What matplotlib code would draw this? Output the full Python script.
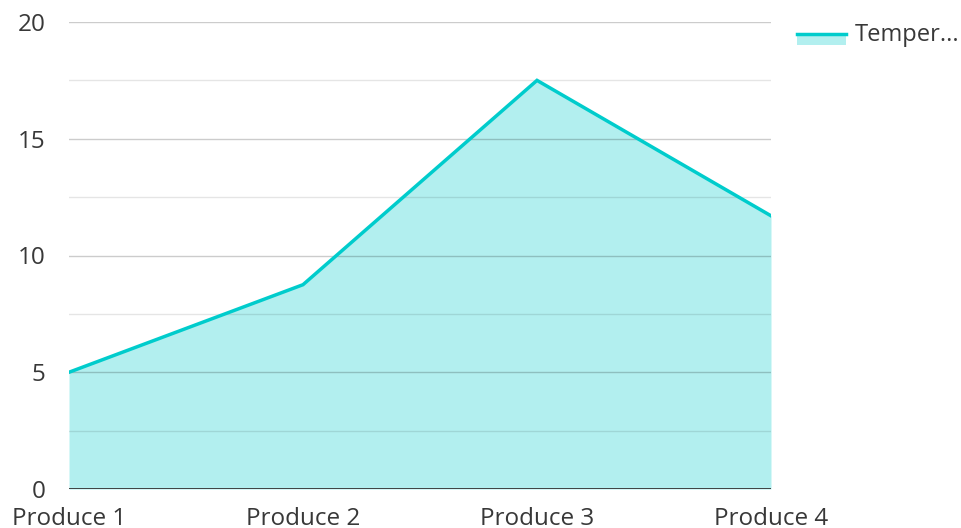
import matplotlib
matplotlib.use('Agg')
import matplotlib.pyplot as plt
from matplotlib.patches import Rectangle
from matplotlib.lines import Line2D

# Data
categories = ['Produce 1', 'Produce 2', 'Produce 3', 'Produce 4']
temperature = [5.0, 8.75, 17.5, 11.7]
series_name = 'Temper...'
y_ticks = [0, 5, 10, 15, 20]
y_minor = [2.5, 7.5, 12.5, 17.5]

line_color = '#00cccc'
text_color = '#383838'

plt.rcParams['font.family'] = ['Open Sans', 'DejaVu Sans']

fig = plt.figure(figsize=(9.61, 5.28), dpi=100)
ax = fig.add_axes([69 / 961, 39 / 528, 702 / 961, 467 / 528])

x = list(range(len(categories)))
ax.fill_between(x, temperature, 0, color=line_color, alpha=0.3, linewidth=0, zorder=1)
ax.plot(x, temperature, color=line_color, linewidth=2.5, zorder=3, solid_joinstyle='miter')

# Gridlines (drawn over the fill, semi-transparent)
for v in y_ticks[1:]:
    ax.axhline(v, color='black', alpha=0.2, linewidth=1, zorder=2)
for v in y_minor:
    ax.axhline(v, color='black', alpha=0.1, linewidth=1, zorder=2)
ax.axhline(0, color='#333333', linewidth=2, zorder=4)

ax.set_xlim(0, len(categories) - 1)
ax.set_ylim(0, 20)
ax.set_xticks(x)
ax.set_xticklabels(categories)
ax.set_yticks(y_ticks)
ax.tick_params(axis='both', length=0, labelsize=17.5, colors=text_color)
ax.tick_params(axis='x', pad=13)
ax.tick_params(axis='y', pad=17)
for s in ax.spines.values():
    s.set_visible(False)

# Legend (drawn by hand to match the line-over-area swatch)
fig.patches.append(Rectangle((797 / 961, 1 - 45 / 528), 49 / 961, 10 / 528,
                             transform=fig.transFigure, color=line_color,
                             alpha=0.3, linewidth=0))
fig.lines.append(Line2D([797 / 961, 846 / 961], [1 - 34 / 528, 1 - 34 / 528],
                        transform=fig.transFigure, color=line_color, linewidth=2.5))
fig.text(855 / 961, 1 - 35 / 528, series_name, fontsize=17, color=text_color,
         va='center', ha='left')

fig.savefig('out.png', dpi=100)
